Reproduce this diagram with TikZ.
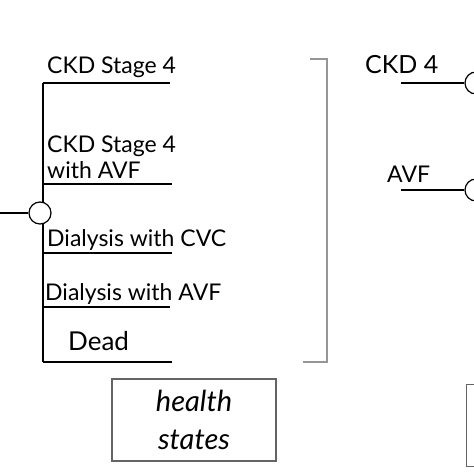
\documentclass[tikz,border=0pt]{standalone}
\usepackage{fontspec}
\setmainfont{Lato}
\usetikzlibrary{positioning}
\definecolor{brgray}{RGB}{150,150,150}
\definecolor{boxgray}{RGB}{100,100,100}

\begin{document}
\begin{tikzpicture}[x=1pt,y=-1pt,
  branch/.style={line width=1.4pt},
  chance/.style={circle,draw,line width=1.2pt,fill=white,minimum size=22pt,inner sep=0pt},
  state/.style={anchor=base west,inner sep=0pt,font=\fontsize{23}{26}\selectfont},
  labelbox/.style={draw=boxgray,line width=1.1pt,minimum width=164pt,minimum height=82pt,
    align=center,font=\fontsize{29}{38}\selectfont\itshape}]
  \clip (0,0) rectangle (474,474);
  % trunk and chance node
  \coordinate (trunktop) at (43,83);
  \coordinate (trunkbot) at (43,362);
  \coordinate (root) at (0,213);
  \draw[branch] (trunktop) -- (trunkbot);
  \node[chance] (split) at (40,213) {};
  \draw[branch] (root) -- (split.west);
  % branches
  \coordinate (ckdend) at (170,83);
  \coordinate (avfstart) at (43,184);
  \coordinate (avfend) at (172,184);
  \coordinate (cvcstart) at (43,253);
  \coordinate (cvcend) at (172,253);
  \coordinate (dafstart) at (43,307);
  \coordinate (dafend) at (170,307);
  \coordinate (deadend) at (172,362);
  \draw[branch] (trunktop) -- (ckdend);
  \draw[branch] (avfstart) -- (avfend);
  \draw[branch] (cvcstart) -- (cvcend);
  \draw[branch] (dafstart) -- (dafend);
  \draw[branch] (trunkbot) -- (deadend);
  % state labels
  \node[state] (ckd) at (47,73) {CKD Stage 4};
  \node[state,align=left] (ckdavf) at (47,178) {CKD Stage 4\\with AVF};
  \node[state] (dcvc) at (47,246) {Dialysis with CVC};
  \node[state] (davf) at (45,300) {Dialysis with AVF};
  \node[state,font=\fontsize{26}{26}\selectfont] (dead) at (68,350) {Dead};
  % bracket
  \draw[brgray,line width=1.2pt] (310,59) -- (327,59) -- (327,362) -- (303,362);
  % next cycle
  \node[chance] (nckd) at (476,83) {};
  \node[chance] (navf) at (476,190) {};
  \coordinate (nckdstart) at (401,83);
  \coordinate (navfstart) at (401,190);
  \draw[branch] (nckdstart) -- (nckd.west);
  \draw[branch] (navfstart) -- (navf.west);
  \node[state,font=\fontsize{25}{26}\selectfont] (nckdlab) at (365,73) {CKD 4};
  \node[state,font=\fontsize{23}{26}\selectfont] (navflab) at (387,182) {AVF};
  % boxes
  \node[labelbox] (hs) at (194,420) {health\\states};
  \node[labelbox,anchor=north west] (nextbox) at (466,384) {};
\end{tikzpicture}
\end{document}
